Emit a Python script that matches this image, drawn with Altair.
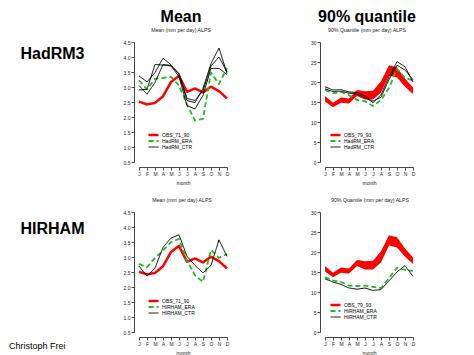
import altair as alt
import pandas as pd

# ---------------- data ----------------
months = ["J", "F", "M", "A", "M", "J", "J", "A", "S", "O", "N", "D"]

col_titles = ["Mean", "90% quantile"]
sub_titles = ["Mean (mm per day) ALPS", "90% Quantile (mm per day) ALPS"]
row_labels = ["HadRM3", "HIRHAM"]
author = ["Christoph Frei"]

obs_names = ["OBS_71_90", "OBS_79_93"]
era_names = ["HadRM_ERA", "HIRHAM_ERA"]
ctr_names = ["HadRM_CTR", "HIRHAM_CTR"]

mean_ticks = [0.5, 1.0, 1.5, 2.0, 2.5, 3.0, 3.5, 4.0, 4.5]
q90_ticks = [0, 5, 10, 15, 20, 25, 30]

# Mean (mm/day)
obs_mean = [2.51, 2.42, 2.47, 2.69, 3.17, 3.37, 2.84, 2.95, 2.82, 3.01, 2.86, 2.62]
hadrm_era_mean = [3.22, 2.92, 3.28, 3.30, 3.34, 3.05, 2.42, 1.88, 1.94, 3.48, 3.10, 3.64]
hadrm_ctr_mean_1 = [3.37, 3.17, 3.48, 3.96, 3.74, 3.42, 2.55, 2.48, 2.95, 3.78, 4.30, 3.45]
hadrm_ctr_mean_2 = [3.05, 2.76, 3.15, 3.75, 3.72, 3.45, 2.62, 2.55, 2.88, 3.70, 4.00, 3.50]
hadrm_ctr_mean_3 = [2.90, 2.92, 3.75, 3.73, 3.70, 3.35, 2.38, 2.27, 2.72, 3.62, 3.62, 3.42]
hirham_era_mean = [2.77, 2.66, 2.97, 3.21, 3.50, 3.60, 2.88, 2.39, 2.17, 3.24, 2.97, 3.10]
hirham_ctr_mean = [2.70, 2.36, 2.63, 3.32, 3.63, 3.74, 3.02, 2.72, 2.47, 2.72, 3.57, 3.02]

# 90% quantile (mm/day)
obs_q90_lo = [15.1, 13.7, 14.8, 14.6, 16.5, 15.6, 15.6, 17.4, 21.6, 21.1, 18.8, 17.0]
obs_q90_hi = [16.5, 14.8, 16.1, 15.9, 18.0, 17.7, 17.8, 20.2, 24.2, 23.7, 20.9, 18.6]
hadrm_era_q90 = [18.0, 17.2, 17.5, 16.7, 15.5, 15.2, 14.0, 15.5, 18.5, 23.3, 21.0, 20.4]
hadrm_ctr_q90_1 = [18.8, 18.0, 18.1, 17.5, 17.4, 16.5, 14.8, 16.8, 21.3, 25.1, 23.8, 20.0]
hadrm_ctr_q90_2 = [18.3, 17.6, 17.7, 17.2, 17.0, 16.0, 15.2, 16.2, 20.6, 24.2, 23.0, 20.6]
hirham_era_q90 = [13.7, 12.9, 12.5, 11.6, 11.5, 11.6, 11.3, 11.0, 13.5, 16.1, 15.5, 15.3]
hirham_ctr_q90 = [13.3, 12.5, 11.9, 11.0, 10.7, 11.0, 10.4, 10.6, 12.8, 15.0, 16.6, 13.9]

# ---------------- styling ----------------
FONT = "Liberation Sans"
RED, GREEN, BLACK = "#ff0000", "#22bb22", "#000000"
label_expr = "[" + ",".join("'%s'" % m for m in months) + "][datum.value - 1]"


def rows(series, member, values):
    return [{"m": i + 1, "v": v, "s": series, "member": member} for i, v in enumerate(values)]


def panel(title, y_domain, y_values, y_format, row_label, names, lines, band,
          legend_xy, row_label_y, extra=None):
    dom = list(names)
    x = alt.X("m:Q", scale=alt.Scale(domain=[1, 12], nice=False, zero=False),
              axis=alt.Axis(values=list(range(1, 13)), labelExpr=label_expr,
                            labelFlush=False, labelOverlap=False, title="month",
                            offset=5, titlePadding=4))
    ykw = dict(values=y_values, format=y_format, offset=5, labelOverlap=False)
    if row_label:
        ykw.update(title=row_label, titleAngle=0, titleX=-82, titleY=row_label_y,
                   titleAlign="center", titleBaseline="alphabetic", titleFontSize=16,
                   titleFontWeight="bold", titleColor="black", titleFont=FONT)
    else:
        ykw.update(title=None)
    yscale = alt.Scale(domain=y_domain, nice=False, zero=False)
    leg = alt.Legend(title=None, orient="none", legendX=legend_xy[0], legendY=legend_xy[1],
                     symbolType="stroke", symbolSize=100, clipHeight=6, rowPadding=0,
                     labelFontSize=5, labelFont=FONT, labelOffset=2, padding=0,
                     labelColor="black")
    line_layer = alt.Chart(pd.DataFrame(lines)).mark_line(strokeJoin="round").encode(
        x=x,
        y=alt.Y("v:Q", scale=yscale, axis=alt.Axis(**ykw)),
        color=alt.Color("s:N", scale=alt.Scale(domain=dom, range=[RED, GREEN, BLACK]), legend=leg),
        strokeDash=alt.StrokeDash("s:N", scale=alt.Scale(domain=dom, range=[[1, 0], [5, 3], [1, 0]]), legend=leg),
        strokeWidth=alt.StrokeWidth("s:N", scale=alt.Scale(type="ordinal", domain=dom, range=[2.5, 1.8, 1.0]), legend=leg),
        detail="member:N",
    )
    layers = []
    if band is not None:
        layers.append(alt.Chart(pd.DataFrame(band)).mark_area().encode(
            x=x,
            y=alt.Y("lo:Q", scale=yscale, axis=alt.Axis(**ykw)),
            y2="hi:Q",
            fill=alt.Fill("s:N", scale=alt.Scale(domain=[names[0]], range=[RED]), legend=None),
        ))
    layers.append(line_layer)
    if extra is not None:
        layers.append(extra)
    return alt.layer(*layers).properties(width=88, height=120, title=title)


def big_title(text, sub, dx):
    return alt.Title(text, subtitle=sub, font=FONT, fontSize=16, fontWeight="bold", color="black",
                     subtitleFont=FONT, subtitleFontSize=5.2, subtitleColor="#222",
                     subtitlePadding=3, offset=7, anchor="middle", frame="group", dx=dx)


def small_title(text, dx):
    return alt.Title(text, font=FONT, fontSize=5.2, fontWeight="normal", color="#222",
                     offset=7, anchor="middle", frame="group", dx=dx)


# top-left: HadRM3 mean
tl_lines = (rows(obs_names[0], "o", obs_mean) + rows(era_names[0], "e", hadrm_era_mean)
            + rows(ctr_names[0], "c1", hadrm_ctr_mean_1) + rows(ctr_names[0], "c2", hadrm_ctr_mean_2)
            + rows(ctr_names[0], "c3", hadrm_ctr_mean_3))
tl = panel(big_title(col_titles[0], sub_titles[0], -2), [0.5, 4.5], mean_ticks, ".1f", row_labels[0],
           (obs_names[0], era_names[0], ctr_names[0]), tl_lines, None, (8, 90), 16)

# top-right: HadRM3 90% quantile
band = [{"m": i + 1, "lo": lo, "hi": hi, "s": obs_names[1]} for i, (lo, hi) in enumerate(zip(obs_q90_lo, obs_q90_hi))]
tr_lines = (rows(era_names[0], "e", hadrm_era_q90) + rows(ctr_names[0], "c1", hadrm_ctr_q90_1)
            + rows(ctr_names[0], "c2", hadrm_ctr_q90_2))
tr = panel(big_title(col_titles[1], sub_titles[1], -2), [0, 30], q90_ticks, "d", None,
           (obs_names[1], era_names[0], ctr_names[0]), tr_lines, band, (4, 90), 0)

# bottom-left: HIRHAM mean
author_layer = alt.Chart(pd.DataFrame({"t": author})).mark_text(
    align="left", baseline="alphabetic", font=FONT, fontSize=9, color="black"
).encode(text="t:N", x=alt.value(-130), y=alt.value(137))
bl_lines = (rows(obs_names[0], "o", obs_mean) + rows(era_names[1], "e", hirham_era_mean)
            + rows(ctr_names[1], "c1", hirham_ctr_mean))
bl = panel(small_title(sub_titles[0], -1), [0.5, 4.5], mean_ticks, ".1f", row_labels[1],
           (obs_names[0], era_names[1], ctr_names[1]), bl_lines, None, (8, 86), 21, extra=author_layer)

# bottom-right: HIRHAM 90% quantile
br_lines = rows(era_names[1], "e", hirham_era_q90) + rows(ctr_names[1], "c1", hirham_ctr_q90)
br = panel(small_title(sub_titles[1], 1), [0, 30], q90_ticks, "d", None,
           (obs_names[1], era_names[1], ctr_names[1]), br_lines, band, (4, 90), 0)

chart = alt.concat(
    tl, tr, bl, br, columns=2, spacing={"row": 50, "column": 98}, bounds="flush",
    padding={"left": 1, "top": 0, "right": 0, "bottom": 0},
).resolve_scale(
    color="independent", strokeDash="independent", strokeWidth="independent", fill="independent"
).resolve_legend(
    color="independent", strokeDash="independent", strokeWidth="independent", fill="independent"
).configure_view(stroke=None).configure_axis(
    labelFont=FONT, titleFont=FONT, labelFontSize=5, titleFontSize=5, titleFontWeight="normal",
    tickSize=3, labelPadding=1, domainColor="#444", tickColor="#444", labelColor="#222",
    titleColor="#222", grid=False,
)

chart.save("out.html", embed_options={"renderer": "svg", "actions": False})
